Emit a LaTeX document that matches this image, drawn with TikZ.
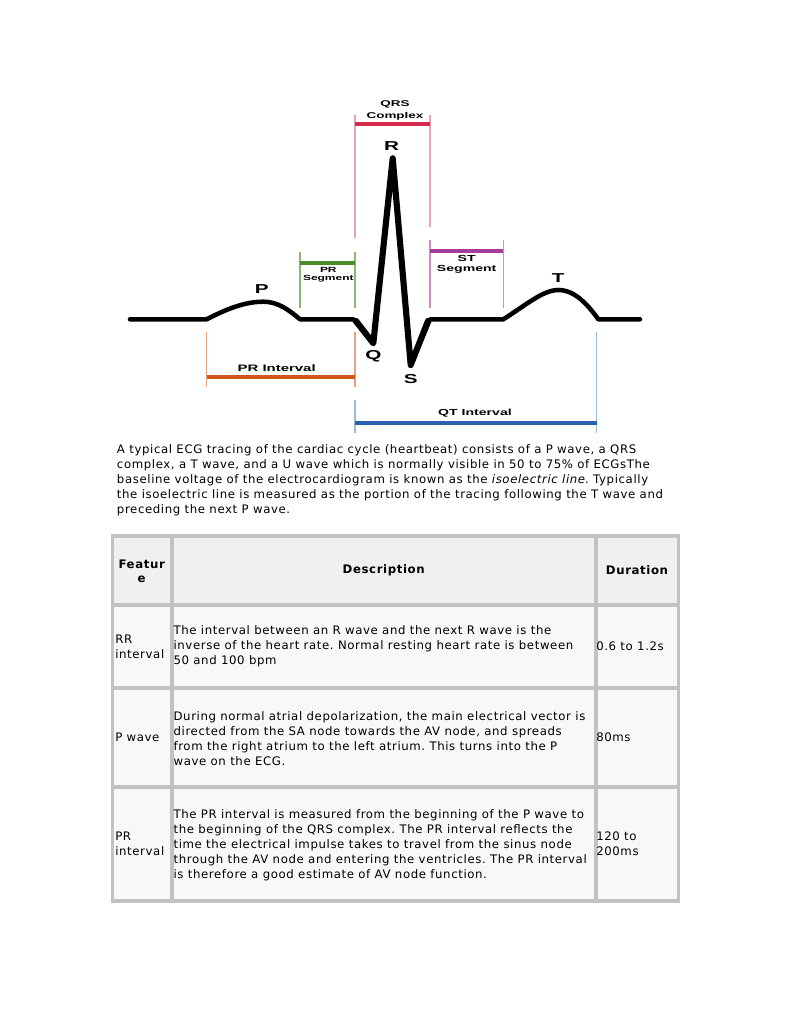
\documentclass[tikz,border=0pt]{standalone}
\usepackage{fontspec}
\setmainfont{DejaVu Sans}[LetterSpace=5.2]
\newfontfamily\lblfont{Liberation Sans}
\usepackage{graphicx}
\usepackage{xcolor}
\usetikzlibrary{positioning}
\frenchspacing

\definecolor{qrsred}{HTML}{D62A4C}
\definecolor{qrspink}{HTML}{EBA3B4}
\definecolor{seggreen}{HTML}{4C8A2A}
\definecolor{seggreenl}{HTML}{8DB57A}
\definecolor{segmag}{HTML}{A83C9E}
\definecolor{segmagl}{HTML}{CD8EC6}
\definecolor{intorange}{HTML}{D2561A}
\definecolor{intorangel}{HTML}{E6A47E}
\definecolor{intblue}{HTML}{2B62B0}
\definecolor{intbluel}{HTML}{9FBCD8}
\definecolor{hdrgray}{HTML}{F0F0F0}
\definecolor{cellgray}{HTML}{F8F8F8}
\definecolor{rulegray}{HTML}{C2C2C2}

\newcommand{\wide}[1]{\scalebox{1.6}[1]{#1}}

\begin{document}
\begin{tikzpicture}[x=0.75pt, y=-0.75pt,
  trace/.style={line width=3.4pt, line cap=round, line join=round},
  bar/.style={line width=3.2pt},
  tick/.style={line width=0.9pt},
  wavelbl/.style={inner sep=0pt, font=\lblfont\bfseries\fontsize{9.7}{10}\selectfont},
  smalllbl/.style={inner sep=0pt, align=center, font=\lblfont\bfseries\fontsize{#1}{#1}\selectfont},
  body/.style={inner sep=0pt, anchor=west, align=left, font=\fontsize{8.8}{11.25}\selectfont},
  hdr/.style={inner sep=0pt, align=center, font=\bfseries\fontsize{8.8}{10.5}\selectfont},
  hdrcell/.style={draw=rulegray, line width=1.5pt, fill=hdrgray},
  bodycell/.style={draw=rulegray, line width=1.5pt, fill=cellgray},
]
\useasboundingbox (0,0) rectangle (791,1023);

% ECG trace
\draw[trace] (130,319.3) -- (206.7,319.3)
  .. controls (232,306) and (249,301.7) .. (263.3,301.7)
  .. controls (278,301.7) and (289,310) .. (300,319.3)
  -- (353.3,319.3) -- (373.3,343.3) -- (392.7,158.3) -- (410.7,365) -- (430,319.3)
  -- (503.3,319.3)
  .. controls (526,305) and (543,290) .. (558.3,290)
  .. controls (575,290) and (588,305) .. (598.3,319.3)
  -- (640,319.3);
\draw[trace, line width=4.6pt] (356,321) -- (373.3,343.3) -- (392.7,158.3) -- (410.7,365) -- (428,321);

% QRS complex
\draw[tick, qrspink] (355,115) -- (355,238.3);
\draw[tick, qrspink] (430,115) -- (430,226.7);
\draw[bar, qrsred] (355,124.3) -- (430,124.3);
\node[smalllbl=6.3] (qrs) at (395,110.8) {\wide{QRS}\\[2.5pt]\wide{Complex}};

% PR segment
\draw[tick, seggreenl] (300,251.7) -- (300,308.3);
\draw[tick, seggreenl] (355,251.7) -- (355,308.3);
\draw[bar, seggreen] (300,262.7) -- (355,262.7);
\node[smalllbl=5.6] (prseg) at (328.3,275) {\wide{PR}\\[0.4pt]\wide{Segment}};

% ST segment
\draw[tick, segmagl] (430,240) -- (430,308.3);
\draw[tick, segmagl] (503.3,240) -- (503.3,308.3);
\draw[bar, segmag] (430,251) -- (503.3,251);
\node[smalllbl=6.6] (stseg) at (466.7,264.2) {\wide{ST}\\[0.7pt]\wide{Segment}};

% PR interval
\draw[tick, intorangel] (206.7,331.7) -- (206.7,386.7);
\draw[tick, intorangel] (355,331.7) -- (355,386.7);
\draw[bar, intorange] (206.7,376.7) -- (355,376.7);
\node[smalllbl=7] (print) at (276.7,368.3) {\wide{PR Interval}};

% QT interval
\draw[tick, intbluel] (355,400) -- (355,433.3);
\draw[tick, intbluel] (596.7,331.7) -- (596.7,433.3);
\draw[bar, intblue] (355,422.7) -- (596.7,422.7);
\node[smalllbl=6.6] (qtint) at (475,412.7) {\wide{QT Interval}};

% wave letters
\node[wavelbl] (pw) at (261.7,289.3) {\wide{P}};
\node[wavelbl] (qw) at (373.3,356.7) {\wide{Q}};
\node[wavelbl] (rw) at (391.7,146) {\wide{R}};
\node[wavelbl] (sw) at (410.7,379.3) {\wide{S}};
\node[wavelbl] (tw) at (558.3,278.3) {\wide{T}};

% caption
\node[body] (caption) at (116.7,480.5)
  {A typical ECG tracing of the cardiac cycle (heartbeat) consists of a P wave, a QRS\\
   complex, a T wave, and a U wave which is normally visible in 50 to 75\% of ECGsThe\\
   baseline voltage of the electrocardiogram is known as the \textit{isoelectric line}. Typically\\
   the isoelectric line is measured as the portion of the tracing following the T wave and\\
   preceding the next P wave.};

% table
\draw[rulegray, line width=2pt] (112,535.5) rectangle (678.5,901.5);
\draw[hdrcell] (113,537) rectangle (170.5,603.5);
\draw[hdrcell] (173,537) rectangle (594.5,603.5);
\draw[hdrcell] (597,537) rectangle (677.5,603.5);
\draw[bodycell] (113,605.5) rectangle (170.5,687);
\draw[bodycell] (173,605.5) rectangle (594.5,687);
\draw[bodycell] (597,605.5) rectangle (677.5,687);
\draw[bodycell] (113,689) rectangle (170.5,786);
\draw[bodycell] (173,689) rectangle (594.5,786);
\draw[bodycell] (597,689) rectangle (677.5,786);
\draw[bodycell] (113,788) rectangle (170.5,900);
\draw[bodycell] (173,788) rectangle (594.5,900);
\draw[bodycell] (597,788) rectangle (677.5,900);

\node[hdr] (hfeat) at (141.7,571.5) {Featur\\e};
\node[hdr] (hdesc) at (383.7,570.5) {Description};
\node[hdr] (hdur) at (637,570.5) {Duration};

\node[body] (rrname) at (115,647) {RR\\interval};
\node[body] (rrdesc) at (173.3,646.7)
  {The interval between an R wave and the next R wave is the\\
   inverse of the heart rate. Normal resting heart rate is between\\
   50 and 100 bpm};
\node[body] (rrdur) at (596,646.7) {0.6 to 1.2s};

\node[body] (pname) at (115,737.7) {P wave};
\node[body] (pdesc) at (173.3,738.5)
  {During normal atrial depolarization, the main electrical vector is\\
   directed from the SA node towards the AV node, and spreads\\
   from the right atrium to the left atrium. This turns into the P\\
   wave on the ECG.};
\node[body] (pdur) at (596,737.7) {80ms};

\node[body] (prname) at (115,844.2) {PR\\interval};
\node[body] (prdesc) at (173.3,845)
  {The PR interval is measured from the beginning of the P wave to\\
   the beginning of the QRS complex. The PR interval reflects the\\
   time the electrical impulse takes to travel from the sinus node\\
   through the AV node and entering the ventricles. The PR interval\\
   is therefore a good estimate of AV node function.};
\node[body] (prdur) at (596,844.2) {120 to\\200ms};
\end{tikzpicture}
\end{document}
